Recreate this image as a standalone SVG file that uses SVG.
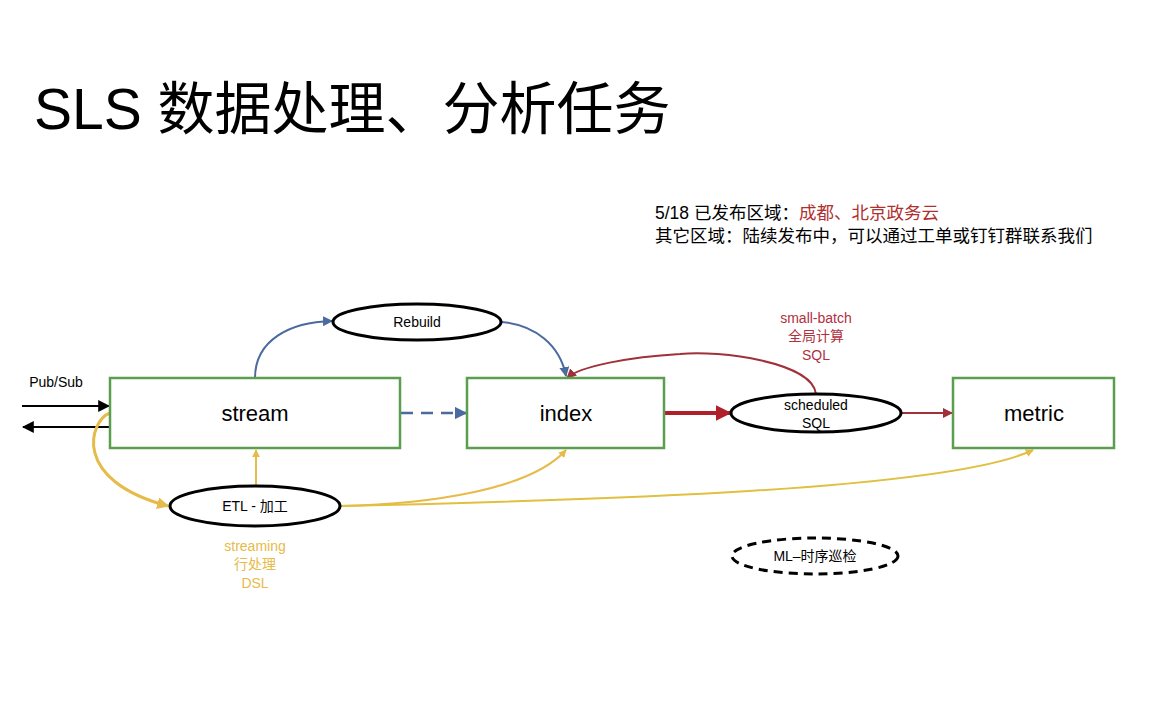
<svg xmlns="http://www.w3.org/2000/svg" width="1152" height="720" viewBox="0 0 1152 720">
<style>
text{font-family:"Liberation Sans","Noto Sans CJK SC",sans-serif;}
.box{fill:#fff;stroke:#5a9e4e;stroke-width:2.5}
.ell{fill:#fff;stroke:#000;stroke-width:3}
.lbl{text-anchor:middle}
</style>
<defs>
<marker id="mkb" viewBox="0 0 10 10" refX="9" refY="5" markerWidth="6" markerHeight="6" orient="auto"><path d="M0,0L10,5L0,10z" fill="#000"/></marker>
<marker id="mkbl" viewBox="0 0 10 10" refX="9" refY="5" markerWidth="5" markerHeight="5" orient="auto"><path d="M0,0L10,5L0,10z" fill="#4a6aa0"/></marker>
<marker id="mkr" viewBox="0 0 10 10" refX="9" refY="5" markerWidth="4" markerHeight="4" orient="auto"><path d="M0,0L10,5L0,10z" fill="#b0202a"/></marker>
<marker id="mkr2" viewBox="0 0 10 10" refX="9" refY="5" markerWidth="5" markerHeight="5" orient="auto"><path d="M0,0L10,5L0,10z" fill="#a0303a"/></marker>
<marker id="mky" viewBox="0 0 10 10" refX="9" refY="5" markerWidth="4" markerHeight="4" orient="auto"><path d="M0,0L10,5L0,10z" fill="#e6bb4a"/></marker>
</defs>
<rect width="1152" height="720" fill="#fff"/>
<text x="34" y="129" font-size="57" fill="#000">SLS 数据处理、分析任务</text>
<text x="655" y="219" font-size="17.5">5/18 已发布区域：<tspan fill="#b03030">成都、北京政务云</tspan></text>
<text x="655" y="242" font-size="17.5">其它区域：陆续发布中，可以通过工单或钉钉群联系我们</text>
<text x="56" y="387" font-size="14" class="lbl">Pub/Sub</text>
<g id="connectors" fill="none">
<line x1="22" y1="406" x2="109" y2="406" stroke="#000" stroke-width="2" marker-end="url(#mkb)"/>
<line x1="110" y1="427" x2="23" y2="427" stroke="#000" stroke-width="2" marker-end="url(#mkb)"/>
<path d="M255,378 C255,340 290,322 332,321" stroke="#4a6aa0" stroke-width="2" marker-end="url(#mkbl)"/>
<path d="M502,322 C535,325 560,345 566,376" stroke="#4a6aa0" stroke-width="2" marker-end="url(#mkbl)"/>
<line x1="401" y1="413" x2="466" y2="413" stroke="#4a6aa0" stroke-width="2.5" stroke-dasharray="12,8" marker-end="url(#mkbl)"/>
<line x1="664" y1="413" x2="730" y2="413" stroke="#b0202a" stroke-width="4" marker-end="url(#mkr)"/>
<line x1="901" y1="413" x2="952" y2="413" stroke="#a0303a" stroke-width="2" marker-end="url(#mkr2)"/>
<path d="M816,394 C812,362 720,350 680,354 C630,357 580,366 567,378" stroke="#a0303a" stroke-width="2" marker-end="url(#mkr2)"/>
<path d="M110,413 C90,420 70,480 168,506" stroke="#e6bb4a" stroke-width="3" marker-end="url(#mky)"/>
<line x1="256" y1="486" x2="256" y2="450" stroke="#e6bb4a" stroke-width="2" marker-end="url(#mky)"/>
<path d="M340,506 C430,504 530,490 566,450" stroke="#e6bb4a" stroke-width="2" marker-end="url(#mky)"/>
<path d="M340,506 C600,500 950,490 1033,450" stroke="#e0c040" stroke-width="2" marker-end="url(#mky)"/>
</g>
<g id="stream"><rect class="box" x="110" y="378" width="290" height="70"/><text x="255" y="421" font-size="22" class="lbl">stream</text></g>
<g id="index"><rect class="box" x="467" y="378" width="197" height="70"/><text x="566" y="421" font-size="22" class="lbl">index</text></g>
<g id="metric"><rect class="box" x="953" y="378" width="161" height="70"/><text x="1034" y="421" font-size="22" class="lbl">metric</text></g>
<g id="rebuild"><ellipse class="ell" cx="417" cy="322" rx="84" ry="18"/><text x="417" y="327" font-size="14" class="lbl">Rebuild</text></g>
<g id="etl"><ellipse class="ell" cx="255" cy="506" rx="85" ry="20"/><text x="255" y="511" font-size="14" class="lbl">ETL - 加工</text></g>
<g id="scheduled"><ellipse class="ell" cx="816" cy="413" rx="85" ry="19"/><text x="816" y="410" font-size="14" class="lbl">scheduled</text><text x="816" y="428" font-size="14" class="lbl">SQL</text></g>
<g id="ml"><ellipse cx="815" cy="556" rx="83" ry="18" fill="#fff" stroke="#000" stroke-width="3" stroke-dasharray="9,6"/><text x="815" y="561" font-size="14" class="lbl">ML–时序巡检</text></g>
<g font-size="14" class="lbl" fill="#e6bb4a"><text x="255" y="551">streaming</text><text x="255" y="569">行处理</text><text x="255" y="588">DSL</text></g>
<g font-size="14" class="lbl" fill="#b03040"><text x="816" y="323">small-batch</text><text x="816" y="341">全局计算</text><text x="816" y="360">SQL</text></g>
</svg>
